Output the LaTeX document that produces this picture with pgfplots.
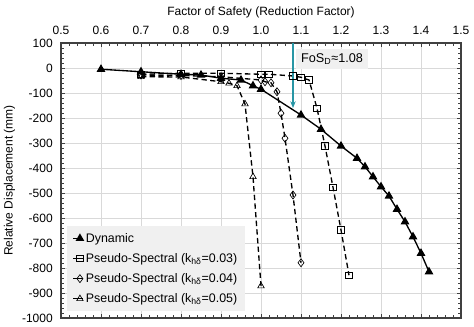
\documentclass[border=0pt]{standalone}
\usepackage{fontspec}
\setmainfont{Liberation Sans}
\usepackage{pgfplots}
\pgfplotsset{compat=1.18}
\usetikzlibrary{arrows.meta}
\definecolor{gridc}{RGB}{217,217,217}
\definecolor{legbg}{RGB}{240,240,240}
\definecolor{teal2}{RGB}{40,150,165}
\begin{document}
\fontsize{9}{10.8}\selectfont
\begin{tikzpicture}
\begin{axis}[
  scale only axis,
  width=300pt, height=206.25pt,
  xmin=0.5, xmax=1.5, ymin=-1000, ymax=100,
  xtick={0.5,0.6,...,1.5},
  xticklabel style={/pgf/number format/.cd,fixed,fixed zerofill,precision=1},
  yticklabel style={/pgf/number format/.cd,1000 sep={}},
  ytick={-1000,-900,...,100},
  minor x tick num=4,
  minor y tick num=4,
  tick align=inside,
  xtick pos=both, ytick pos=both,
  xticklabel pos=upper,
  grid=major,
  major grid style={gridc, line width=0.6pt},
  axis line style={black!75, line width=0.8pt},
  major tick length=3pt, minor tick length=2pt,
  tick style={black!75, line width=0.6pt},
  /pgf/number format/assume math mode=true,
  ticklabel style={font=\fontsize{9}{10.8}\selectfont},
  xticklabel shift=3pt,
  yticklabel shift=3pt,
  label style={font=\fontsize{9}{10.8}\selectfont},
  xlabel={Factor of Safety (Reduction Factor)},
  ylabel={Relative Displacement (mm)},
  xlabel style={yshift=0pt},
  ylabel style={yshift=-1pt},
  legend cell align=left,
  legend style={at={(rel axis cs:0.015,0.025)}, anchor=south west, fill=legbg, draw=none,
    font=\fontsize{9.3}{11.2}\selectfont, row sep=3pt, inner xsep=4pt, inner ysep=3pt,
    nodes={inner xsep=2pt}},
  legend image code/.code={\draw[#1, solid] (0pt,0pt) -- (7pt,0pt); \draw[#1, solid] plot coordinates {(5pt,0pt)};},
]
\addplot[black, line width=1pt, mark=triangle*, mark size=2.8pt, mark options={solid, fill=black}] coordinates {
(0.60,-5) (0.70,-15) (0.80,-25) (0.85,-28) (0.90,-41) (0.95,-48) (0.98,-71) (1.00,-85)
(1.10,-188) (1.15,-245) (1.20,-312) (1.24,-361) (1.26,-395) (1.28,-435) (1.30,-475)
(1.32,-512) (1.34,-565) (1.36,-615) (1.38,-675) (1.40,-741) (1.42,-815)};
\addlegendentry{Dynamic}
\addplot[black, line width=1pt, dash pattern=on 4pt off 2.5pt, mark=square, mark size=2.4pt, mark options={solid, fill=white, line width=0.5pt}] coordinates {
(0.70,-25) (0.80,-21) (0.90,-21) (1.00,-25) (1.02,-25) (1.08,-32) (1.10,-37) (1.12,-48)
(1.14,-161) (1.16,-312) (1.18,-477) (1.20,-648) (1.22,-829)};
\addlegendentry{Pseudo-Spectral (k\textsubscript{hδ}=0.03)}
\addplot[black, line width=1pt, dash pattern=on 4pt off 2.5pt, mark=diamond, mark size=3pt, mark options={solid, fill=white, line width=0.5pt}] coordinates {
(0.70,-28) (0.80,-30) (0.90,-35) (1.00,-48) (1.01,-55) (1.025,-59) (1.04,-95) (1.05,-181)
(1.06,-281) (1.08,-508) (1.10,-779)};
\addlegendentry{Pseudo-Spectral (k\textsubscript{hδ}=0.04)}
\addplot[black, line width=1pt, dash pattern=on 4pt off 2.5pt, mark=triangle, mark size=2.8pt, mark options={solid, fill=white, line width=0.5pt}] coordinates {
(0.70,-35) (0.80,-36) (0.90,-55) (0.92,-61) (0.94,-71) (0.96,-144) (0.98,-435) (1.00,-872)};
\addlegendentry{Pseudo-Spectral (k\textsubscript{hδ}=0.05)}
\draw[teal2, line width=0.8pt, -{Stealth[length=5pt,width=4pt]}] (axis cs:1.08,100) -- (axis cs:1.08,-160);
\node[fill=legbg, anchor=west, inner sep=3.5pt, font=\fontsize{9.5}{11.4}\selectfont] at (axis cs:1.088,36) {FoS\textsubscript{D}≈1.08};
\coordinate (sw) at (rel axis cs:0,0);
\coordinate (ne) at (rel axis cs:1,1);
\end{axis}
\pgfresetboundingbox
\path[use as bounding box] ([shift={(-45.75pt,-6.75pt)}]sw) rectangle ([shift={(9.75pt,32.25pt)}]ne);
\end{tikzpicture}
\end{document}
